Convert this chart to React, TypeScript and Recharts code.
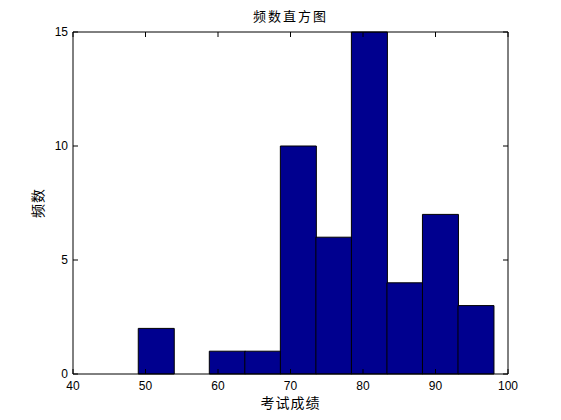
import { ComposedChart, Bar, Line, XAxis, YAxis } from "recharts";

// histogram bins (score): 10 bins of width 4.9 from 49 to 98
const binCenters = [51.45, 56.35, 61.25, 66.15, 71.05, 75.95, 80.85, 85.75, 90.65, 95.55];
const counts = [2, 0, 1, 1, 10, 6, 15, 4, 7, 3];

const xTicks = [40, 50, 60, 70, 80, 90, 100];
const yTicks = [0, 5, 10, 15];

const data = binCenters.map((c, i) => ({ center: c, count: counts[i] }));

const tickStyle = {
  fill: "#000",
  fontSize: 12,
  fontFamily: "Liberation Sans, Arial, sans-serif",
};

const cjk = "Noto Sans CJK SC, sans-serif";

function YLabel({ viewBox }: any) {
  const cx = 37;
  const cy = viewBox.y + viewBox.height / 2;
  return (
    <text
      x={cx}
      y={cy}
      transform={`rotate(-90 ${cx} ${cy})`}
      textAnchor="middle"
      dominantBaseline="central"
      fontSize={14}
      fontFamily={cjk}
      fill="#000"
      letterSpacing={1}
    >
      频数
    </text>
  );
}

export default function App() {
  return (
    <div
      style={{
        position: "absolute",
        left: 0,
        top: 0,
        width: 561,
        height: 420,
        background: "#fff",
      }}
    >
      {/* Title */}
      <div
        style={{
          position: "absolute",
          left: 73,
          width: 435,
          top: 6,
          textAlign: "center",
          fontFamily: cjk,
          fontSize: 13,
          letterSpacing: 2,
          lineHeight: "20px",
        }}
      >
        频数直方图
      </div>

      <ComposedChart
        width={561}
        height={420}
        data={data}
        margin={{ top: 31, right: 52, bottom: 0, left: 0 }}
        barCategoryGap={0}
        barGap={0}
      >
        <XAxis
          xAxisId="b"
          type="number"
          dataKey="center"
          domain={[40, 100]}
          ticks={xTicks}
          height={46}
          tickSize={-5}
          tickMargin={12}
          tick={tickStyle}
          stroke="#000"
          axisLine={{ stroke: "#000" }}
          tickLine={{ stroke: "#000" }}
          label={{
            value: "考试成绩",
            position: "insideBottom",
            offset: 12,
            fontSize: 14,
            fontFamily: cjk,
            fill: "#000",
            letterSpacing: 1,
          }}
        />
        {/* box: top axis, ticks only */}
        <XAxis
          xAxisId="t"
          orientation="top"
          type="number"
          dataKey="center"
          domain={[40, 100]}
          ticks={xTicks}
          height={1}
          tickSize={-5}
          tickFormatter={() => ""}
          stroke="#000"
          axisLine={{ stroke: "#000" }}
          tickLine={{ stroke: "#000" }}
        />
        <YAxis
          yAxisId="l"
          type="number"
          domain={[0, 15]}
          ticks={yTicks}
          width={73}
          tickSize={-5}
          tickMargin={10}
          tick={tickStyle}
          stroke="#000"
          axisLine={{ stroke: "#000" }}
          tickLine={{ stroke: "#000" }}
          label={<YLabel />}
        />
        {/* box: right axis, ticks only */}
        <YAxis
          yAxisId="r"
          orientation="right"
          type="number"
          domain={[0, 15]}
          ticks={yTicks}
          width={1}
          tickSize={-5}
          tickFormatter={() => ""}
          stroke="#000"
          axisLine={{ stroke: "#000" }}
          tickLine={{ stroke: "#000" }}
        />
        <Bar
          xAxisId="b"
          yAxisId="l"
          dataKey="count"
          fill="#00008f"
          stroke="#000"
          strokeWidth={1}
          isAnimationActive={false}
        />
        {/* invisible series so the top/right axes are drawn */}
        <Line
          xAxisId="t"
          yAxisId="r"
          dataKey="count"
          stroke="none"
          dot={false}
          activeDot={false}
          legendType="none"
          isAnimationActive={false}
        />
      </ComposedChart>
    </div>
  );
}
